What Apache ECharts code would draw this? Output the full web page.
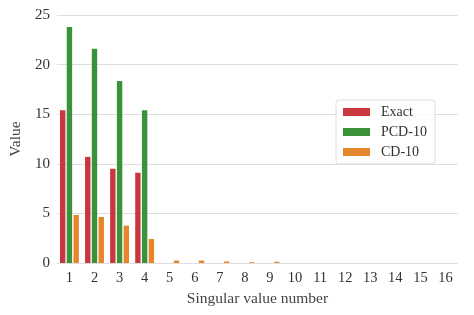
<!DOCTYPE html>
<html><head><meta charset="utf-8">
<script src="https://cdn.jsdelivr.net/npm/echarts@6/dist/echarts.min.js"></script>
<style>html,body{margin:0;padding:0;background:#fff}#c{width:474px;height:315px}</style>
</head><body><div id="c"></div>
<script>
const categories = ['1','2','3','4','5','6','7','8','9','10','11','12','13','14','15','16'];
const exactValues = [15.4, 10.7, 9.5, 9.1, 0, 0, 0, 0, 0, 0, 0, 0, 0, 0, 0, 0];
const pcdValues = [23.8, 21.6, 18.35, 15.4, 0, 0, 0, 0, 0, 0, 0, 0, 0, 0, 0, 0];
const cdValues = [4.84, 4.64, 3.76, 2.42, 0.25, 0.25, 0.15, 0.08, 0.12, 0, 0, 0, 0, 0, 0, 0];
const yTicks = [0, 5, 10, 15, 20, 25];

const font = 'Liberation Serif';
const chart = echarts.init(document.getElementById('c'), null, {renderer: 'canvas'});
const mk = (name, data, color) => ({
  name, type: 'bar', data, barWidth: 5.4, barGap: '25%',
  itemStyle: {color}
});
chart.setOption({
  animation: false,
  backgroundColor: '#fff',
  textStyle: {fontFamily: font},
  grid: {left: 50, right: 16, top: 15, bottom: 52},
  legend: {
    orient: 'vertical', left: 336, top: 100,
    padding: [5, 8, 5, 7],
    itemWidth: 27, itemHeight: 8, itemGap: 6, icon: 'rect',
    backgroundColor: 'rgba(255,255,255,0.8)', borderColor: '#dddddd', borderWidth: 1, borderRadius: 3,
    textStyle: {fontFamily: font, fontSize: 14, color: '#333', lineHeight: 14, padding: [0,0,0,6]},
    data: ['Exact', 'PCD-10', 'CD-10']
  },
  xAxis: {
    type: 'category', data: categories,
    name: 'Singular value number', nameLocation: 'middle', nameGap: 22,
    nameTextStyle: {fontFamily: font, fontSize: 15.5, color: '#444'},
    axisLine: {show: false}, axisTick: {show: false},
    axisLabel: {fontFamily: font, fontSize: 14.5, color: '#333', margin: 8}
  },
  yAxis: {
    type: 'value', min: yTicks[0], max: yTicks[yTicks.length-1], interval: 5,
    name: 'Value', nameLocation: 'middle', nameGap: 32, nameRotate: 90,
    nameTextStyle: {fontFamily: font, fontSize: 15.5, color: '#444'},
    axisLine: {show: false}, axisTick: {show: false},
    axisLabel: {fontFamily: font, fontSize: 15, color: '#333', margin: 7},
    splitLine: {lineStyle: {color: '#dedede', width: 1}}
  },
  series: [
    mk('Exact', exactValues, '#c8373f'),
    mk('PCD-10', pcdValues, '#3a923a'),
    mk('CD-10', cdValues, '#e6852c')
  ]
});
</script></body></html>
